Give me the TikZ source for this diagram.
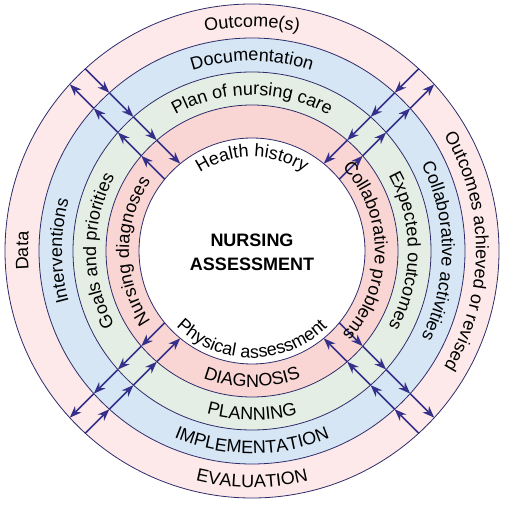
\documentclass[tikz,border=0pt]{standalone}
\usepackage{fontspec}
\setmainfont{Liberation Sans}
\usetikzlibrary{decorations.text,arrows.meta}
\definecolor{bandA}{HTML}{FDE9E9}
\definecolor{bandB}{HTML}{D6E6F4}
\definecolor{bandC}{HTML}{E5EEE4}
\definecolor{bandD}{HTML}{F9D6D3}
\definecolor{ringline}{HTML}{2E2C6B}
\definecolor{arrowcol}{HTML}{35308A}
\newcommand\rtxt{\fontsize{18}{21}\selectfont}
\tikzset{
  ring/.style={draw=ringline, line width=0.8pt},
  flow/.style={draw=arrowcol, line width=1.6pt, -{Stealth[length=12pt,width=9pt]}},
  arctext/.style={decorate, decoration={text along path, text={|\rtxt|#1}, text align=center}},
  centre/.style={font=\fontsize{18}{24}\selectfont\bfseries, align=center, text=black}
}
\begin{document}
\begin{tikzpicture}[x=1pt,y=1pt]
\useasboundingbox (0,0) rectangle (504,505);
\begin{scope}[shift={(252,254)}]
  \fill[bandA] (0,0) circle (247);
  \fill[bandB] (0,0) circle (213);
  \fill[bandC] (0,0) circle (179);
  \fill[bandD] (0,0) circle (146);
  \fill[white] (0,0) circle (113);
  \foreach \r in {247,213,179,146,113} \draw[ring] (0,0) circle (\r);

  % arrows
  \foreach \t/\s in {45/1,135/-1,225/1,315/-1} {
    \foreach \ra/\rb in {247/213,213/179,179/146,146/113} {
      \pgfmathsetmacro\aia{\t+\s*asin(11/\ra)}
      \pgfmathsetmacro\aib{\t+\s*asin(11/\rb)}
      \pgfmathsetmacro\aoa{\t-\s*asin(11/\rb)}
      \pgfmathsetmacro\aob{\t-\s*asin(11/\ra)}
      \coordinate (ia) at (\aia:\ra);
      \coordinate (ib) at (\aib:\rb);
      \coordinate (oa) at (\aoa:\rb);
      \coordinate (ob) at (\aob:\ra);
      \draw[flow] (ia) -- (ib);
      \draw[flow] (oa) -- (ob);
    }
  }

  % outer band
  \path[arctext=Outcome(s)] (180:224) arc[start angle=180,end angle=0,radius=224];
  \path[arctext=Data] (270:224) arc[start angle=270,end angle=90,radius=224];
  \path[arctext=Outcomes achieved or revised] (90:224) arc[start angle=90,end angle=-90,radius=224];
  \path[arctext=EVALUATION] (180:236.5) arc[start angle=180,end angle=360,radius=236.5];
  % blue band
  \path[arctext=Documentation] (180:190) arc[start angle=180,end angle=0,radius=190];
  \path[arctext=Interventions] (270:190) arc[start angle=270,end angle=90,radius=190];
  \path[arctext=Collaborative activities] (90:190) arc[start angle=90,end angle=-90,radius=190];
  \path[arctext=IMPLEMENTATION] (180:202.5) arc[start angle=180,end angle=360,radius=202.5];
  % green band
  \path[arctext=Plan of nursing care] (180:156) arc[start angle=180,end angle=0,radius=156];
  \path[arctext=Goals and priorities] (270:156) arc[start angle=270,end angle=90,radius=156];
  \path[arctext=Expected outcomes] (90:156) arc[start angle=90,end angle=-90,radius=156];
  \path[arctext=PLANNING] (180:169) arc[start angle=180,end angle=360,radius=169];
  % inner band
  \path[arctext=Nursing diagnoses] (270:123) arc[start angle=270,end angle=90,radius=123];
  \path[arctext=Collaborative problems] (90:123) arc[start angle=90,end angle=-90,radius=123];
  \path[arctext=DIAGNOSIS] (180:136) arc[start angle=180,end angle=360,radius=136];
  % white centre
  \path[arctext=Health history] (180:94) arc[start angle=180,end angle=0,radius=94];
  \path[arctext=Physical assessment] (180:107) arc[start angle=180,end angle=360,radius=107];
  \node[centre] (core) at (0,-1.5) {NURSING\\ASSESSMENT};
\end{scope}
\end{tikzpicture}
\end{document}
